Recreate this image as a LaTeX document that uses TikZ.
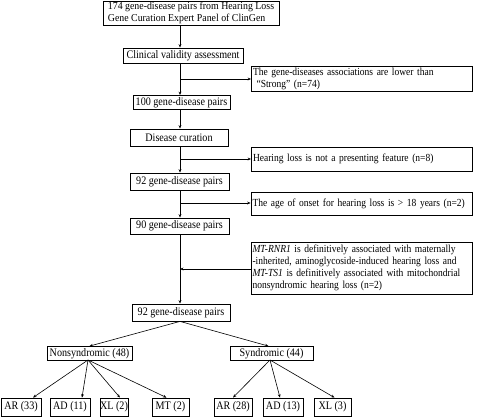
\documentclass[tikz,border=0pt]{standalone}
\usepackage{fontspec}
\setmainfont{Liberation Serif}
\newfontfamily\cf{Liberation Serif}[FakeStretch=0.88]
\newfontfamily\cfb{Liberation Serif}[FakeStretch=0.93]
\usetikzlibrary{arrows.meta}
\begin{document}
\begin{tikzpicture}[x=1pt,y=-1pt,
  bx/.style={draw,line width=0.8pt,inner sep=0pt,font=\cf\fontsize{11.5}{12}\selectfont},
  sbx/.style={bx,inner xsep=1.5pt,align=left,text width=218pt,font=\cf\fontsize{10.8}{12}\selectfont},
  arr/.style={-{Stealth[length=3.5pt,width=2.8pt]},line width=0.6pt}]
\path[use as bounding box,fill=white] (0,0) rectangle (480,417);
\node[bx,inner xsep=2pt,font=\cfb\fontsize{10.6}{12}\selectfont,minimum width=176pt,minimum height=24pt,align=left] (b1) at (191,13) {174 gene-disease pairs from Hearing Loss\\Gene Curation Expert Panel of ClinGen};
\node[bx,minimum width=120pt,minimum height=15pt] (b2) at (183,55.5) {Clinical validity assessment};
\node[sbx,minimum width=220pt,minimum height=25pt] (s1) at (362,78.5) {The gene-diseases associations are lower than\\\ “Strong” (n=74)};
\node[bx,minimum width=97pt,minimum height=14pt] (b3) at (181.5,102.5) {100 gene-disease pairs};
\node[bx,minimum width=98pt,minimum height=17pt] (b4) at (179,137.5) {Disease curation};
\node[sbx,minimum width=220pt,minimum height=24pt] (s2) at (362,159) {Hearing loss is not a presenting feature (n=8)};
\node[bx,minimum width=99pt,minimum height=17pt] (b5) at (179.5,181.5) {92 gene-disease pairs};
\node[sbx,minimum width=221pt,minimum height=23pt] (s3) at (361.5,203.5) {\mbox{The age of onset for hearing loss is > 18 years (n=2)}};
\node[bx,minimum width=99pt,minimum height=16pt] (b6) at (179.5,226) {90 gene-disease pairs};
\node[sbx,minimum width=221pt,minimum height=52pt] (s4) at (361.5,268) {\textit{MT-RNR1} is definitively associated with maternally\\-inherited, aminoglycoside-induced hearing loss and\\\textit{MT-TS1} is definitively associated with mitochondrial\\nonsyndromic hearing loss (n=2)};
\node[bx,minimum width=98pt,minimum height=17pt] (b7) at (181,312.5) {92 gene-disease pairs};
\node[bx,minimum width=85pt,minimum height=14pt] (ns) at (89.5,353.5) {Nonsyndromic (48)};
\node[bx,minimum width=83pt,minimum height=14pt] (sy) at (271.5,353.5) {Syndromic (44)};
\node[bx,minimum width=40pt,minimum height=18pt] (ar1) at (21,407) {AR (33)};
\node[bx,minimum width=40pt,minimum height=18pt] (ad1) at (70,407) {AD (11)};
\node[bx,minimum width=28pt,minimum height=18pt] (xl1) at (114,407) {XL (2)};
\node[bx,minimum width=37pt,minimum height=18pt] (mt1) at (170.5,407) {MT (2)};
\node[bx,minimum width=38pt,minimum height=18pt] (ar2) at (233,407) {AR (28)};
\node[bx,minimum width=40pt,minimum height=18pt] (ad2) at (283,407) {AD (13)};
\node[bx,minimum width=37pt,minimum height=18pt] (xl2) at (332.5,407) {XL (3)};
\coordinate (t) at (180,0);
\coordinate (j1) at (180,79);
\coordinate (j2) at (180,159);
\coordinate (j3) at (180,203);
\coordinate (j4) at (180,269);
\coordinate (nsb) at (88,360);
\coordinate (syb) at (270,360);
\draw[arr] (b1.south -| t) -- (b2.north -| t);
\draw[arr] (b2.south -| t) -- (b3.north -| t);
\draw[arr] (j1) -- (s1.west |- j1);
\draw[arr] (b3.south -| t) -- (b4.north -| t);
\draw[arr] (b4.south -| t) -- (b5.north -| t);
\draw[arr] (j2) -- (s2.west |- j2);
\draw[arr] (b5.south -| t) -- (b6.north -| t);
\draw[arr] (j3) -- (s3.west |- j3);
\draw[arr] (b6.south -| t) -- (b7.north -| t);
\draw[arr] (s4.west |- j4) -- (j4);
\draw[arr] (b7.south -| t) -- (ns.north);
\draw[arr] (b7.south -| t) -- ([xshift=-3pt]sy.north);
\draw[arr] (nsb) -- ([xshift=12pt]ar1.north);
\draw[arr] (nsb) -- ([xshift=12pt]ad1.north);
\draw[arr] (nsb) -- ([xshift=6pt]xl1.north);
\draw[arr] (nsb) -- ([xshift=-4pt]mt1.north);
\draw[arr] (syb) -- (ar2.north);
\draw[arr] (syb) -- ([xshift=-3pt]ad2.north);
\draw[arr] (syb) -- ([xshift=2pt]xl2.north);
\end{tikzpicture}
\end{document}
